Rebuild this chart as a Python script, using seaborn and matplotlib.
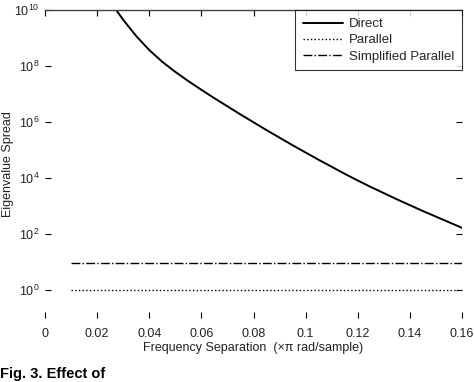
import numpy as np
import pandas as pd
import seaborn as sns
import matplotlib.pyplot as plt
from matplotlib.ticker import NullLocator

# values
freq = [0.025, 0.03, 0.035, 0.04, 0.045, 0.05, 0.055, 0.06, 0.065, 0.07,
        0.075, 0.08, 0.085, 0.09, 0.095, 0.10, 0.105, 0.11, 0.115, 0.12,
        0.125, 0.13, 0.135, 0.14, 0.145, 0.15, 0.155, 0.16]
direct_log10 = [10.3, 9.65, 9.07, 8.57, 8.15, 7.79, 7.46, 7.15, 6.85, 6.56,
                6.27, 5.99, 5.71, 5.44, 5.17, 4.91, 4.65, 4.40, 4.15, 3.91,
                3.68, 3.46, 3.24, 3.03, 2.82, 2.62, 2.42, 2.22]
parallel_freq = [0.01, 0.16]
parallel = [1.0, 1.0]
simplified = [9.0, 9.0]

xticks = [0, 0.02, 0.04, 0.06, 0.08, 0.1, 0.12, 0.14, 0.16]
xticklabels = ["0", "0.02", "0.04", "0.06", "0.08", "0.1", "0.12", "0.14", "0.16"]
yticks = [1e0, 1e2, 1e4, 1e6, 1e8, 1e10]
yticklabels = [r"$10^{0}$", r"$10^{2}$", r"$10^{4}$", r"$10^{6}$", r"$10^{8}$", r"$10^{10}$"]

sns.set_theme(style="white")
plt.rcParams["font.family"] = ["Liberation Sans", "DejaVu Sans"]
plt.rcParams["mathtext.fontset"] = "custom"
plt.rcParams["mathtext.rm"] = "Liberation Sans"
plt.rcParams["mathtext.it"] = "Liberation Sans"

fig = plt.figure(figsize=(4.74, 3.82), dpi=100)
ax = fig.add_axes([45 / 474, 1 - 318 / 382, 417 / 474, 308 / 382])

direct = np.power(10.0, direct_log10)
sns.lineplot(x=freq, y=direct, ax=ax, color="black", linewidth=1.4, label="Direct")
sns.lineplot(x=parallel_freq, y=parallel, ax=ax, color="black", linewidth=1.0,
             linestyle=":", label="Parallel")
sns.lineplot(x=parallel_freq, y=simplified, ax=ax, color="black", linewidth=1.0,
             linestyle="-.", label="Simplified Parallel")

ax.set_yscale("log")
ax.set_xlim(0, 0.16)
ax.set_ylim(1e-1, 1e10)
ax.set_xticks(xticks)
ax.set_xticklabels(xticklabels)
ax.set_yticks(yticks)
ax.set_yticklabels(yticklabels)
ax.yaxis.set_minor_locator(NullLocator())
ax.tick_params(axis="both", direction="in", length=4, width=0.8, color="black",
               labelsize=9, labelcolor="#222222",
               top=True, right=True, bottom=True, left=True)
ax.tick_params(axis="x", pad=7)
ax.tick_params(axis="y", pad=4)

for side in ["left", "right", "bottom"]:
    ax.spines[side].set_visible(False)
ax.spines["top"].set_color("#444444")
ax.spines["top"].set_linewidth(1.0)

ax.set_xlabel("Frequency Separation  (\u00d7\u03c0 rad/sample)", fontsize=9,
              color="#222222", labelpad=2)
ax.set_ylabel("Eigenvalue Spread", fontsize=9, color="#222222")
ax.yaxis.set_label_coords(-31 / 417, 0.5)

leg = ax.legend(loc="upper right", borderaxespad=0, fontsize=9.5, fancybox=False,
                handlelength=3.0, handletextpad=0.45, labelspacing=0.3,
                borderpad=0.6)
leg.get_frame().set_edgecolor("black")
leg.get_frame().set_linewidth(0.8)

fig.text(0.0, 1 - 378 / 382, "Fig. 3. Effect of", fontsize=10.5, fontweight="bold",
         va="baseline", ha="left", color="black")

fig.savefig("out.png", dpi=100)
